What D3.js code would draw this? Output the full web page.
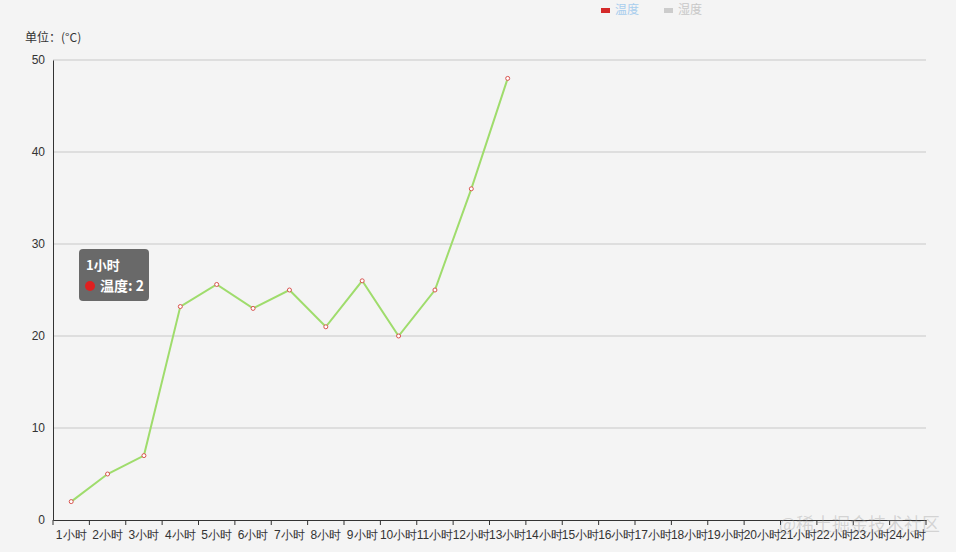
<!DOCTYPE html>
<html>
<head>
<meta charset="utf-8">
<script src="https://cdn.jsdelivr.net/npm/d3@7"></script>
<style>
  body { margin: 0; background: #f4f4f4; }
  svg { display: block; font-family: "Microsoft YaHei", "Noto Sans CJK SC", sans-serif; }
</style>
</head>
<body>
<svg id="chart" width="956" height="552"></svg>
<script>
// categories: 1小时 .. 24小时
const hours = ["1小时","2小时","3小时","4小时","5小时","6小时","7小时","8小时","9小时","10小时","11小时","12小时",
               "13小时","14小时","15小时","16小时","17小时","18小时","19小时","20小时","21小时","22小时","23小时","24小时"];
// temperature series (only first 13 hours have data)
const temperature = [2, 5, 7, 23.2, 25.6, 23, 25, 21, 26, 20, 25, 36, 48];
const yTicks = [0, 10, 20, 30, 40, 50];
const legendItems = ["温度", "湿度"];

var w = 956, h = 552;
var margin = { top: 60, right: 30, bottom: 32, left: 53 };

var svg = d3.select("#chart");

svg.append("rect").attr("width", w).attr("height", h).attr("fill", "#f4f4f4");

var xScale = d3.scaleBand()
  .domain(hours)
  .range([margin.left, w - margin.right]);

var yScale = d3.scaleLinear()
  .domain([0, 50])
  .range([h - margin.bottom, margin.top]);

// grid lines
svg.append("g")
  .selectAll("line")
  .data(yTicks.filter(d => d > 0))
  .enter().append("line")
    .attr("x1", margin.left)
    .attr("x2", w - margin.right)
    .attr("y1", d => yScale(d))
    .attr("y2", d => yScale(d))
    .attr("stroke", "#c8c8c8")
    .attr("stroke-width", 1);

// y axis
var yAxis = d3.axisLeft(yScale)
  .tickValues(yTicks)
  .tickSize(0)
  .tickPadding(8);

svg.append("g")
  .attr("transform", "translate(" + margin.left + ",0)")
  .call(yAxis)
  .call(g => g.select(".domain").attr("stroke", "#333"))
  .selectAll("text")
    .attr("fill", "#333")
    .style("font-size", "12px");

// x axis with ticks at band boundaries
var xAxis = d3.axisBottom(xScale).tickSize(0).tickPadding(10);

var xg = svg.append("g")
  .attr("transform", "translate(0," + (h - margin.bottom) + ")")
  .call(xAxis);
xg.select(".domain").attr("stroke", "#333");
xg.selectAll("text").attr("fill", "#333").style("font-size", "12px");

xg.selectAll(".bound")
  .data(hours.concat([null]))
  .enter().append("line")
    .attr("class", "bound")
    .attr("x1", (d, i) => margin.left + i * xScale.bandwidth())
    .attr("x2", (d, i) => margin.left + i * xScale.bandwidth())
    .attr("y1", 0)
    .attr("y2", 5)
    .attr("stroke", "#333");

// line
var line = d3.line()
  .x((d, i) => xScale(hours[i]) + xScale.bandwidth() / 2)
  .y(d => yScale(d));

svg.append("path")
  .datum(temperature)
  .attr("d", line)
  .attr("fill", "none")
  .attr("stroke", "#9fdc6c")
  .attr("stroke-width", 2);

svg.append("g")
  .selectAll("circle")
  .data(temperature)
  .enter().append("circle")
    .attr("cx", (d, i) => xScale(hours[i]) + xScale.bandwidth() / 2)
    .attr("cy", d => yScale(d))
    .attr("r", 2)
    .attr("fill", "#fff")
    .attr("stroke", "#d9534f")
    .attr("stroke-width", 1);

// unit label
svg.append("text")
  .attr("x", 25)
  .attr("y", 42)
  .attr("fill", "#333")
  .style("font-size", "12px")
  .text("单位：(°C)");

// legend
var legendColors = ["#d42a2a", "#cccccc"];
var legendText = ["#a8cdee", "#c8c8c8"];
var lg = svg.append("g").attr("transform", "translate(601,0)");
legendItems.forEach(function(name, i) {
  var gx = i * 63;
  lg.append("rect")
    .attr("x", gx).attr("y", 8)
    .attr("width", 9).attr("height", 5)
    .attr("fill", legendColors[i]);
  lg.append("text")
    .attr("x", gx + 14).attr("y", 14)
    .attr("fill", legendText[i])
    .style("font-size", "12px")
    .text(name);
});

// tooltip
var tip = svg.append("g").attr("transform", "translate(79,249)");
tip.append("rect")
  .attr("width", 70).attr("height", 52)
  .attr("rx", 4)
  .attr("fill", "rgba(90,90,90,0.9)");
tip.append("text")
  .attr("x", 7).attr("y", 21)
  .attr("fill", "#fff")
  .style("font-size", "13px")
  .style("font-weight", "bold")
  .text(hours[0]);
tip.append("circle")
  .attr("cx", 11).attr("cy", 37)
  .attr("r", 5)
  .attr("fill", "#e02020");
tip.append("text")
  .attr("x", 21).attr("y", 42)
  .attr("fill", "#fff")
  .style("font-size", "14px")
  .style("font-weight", "bold")
  .text(legendItems[0] + ": " + temperature[0]);

// watermark
svg.append("text")
  .attr("x", 940).attr("y", 531)
  .attr("text-anchor", "end")
  .attr("fill", "rgba(150,150,150,0.35)")
  .style("font-size", "18px")
  .text("@稀土掘金技术社区");
</script>
</body>
</html>
